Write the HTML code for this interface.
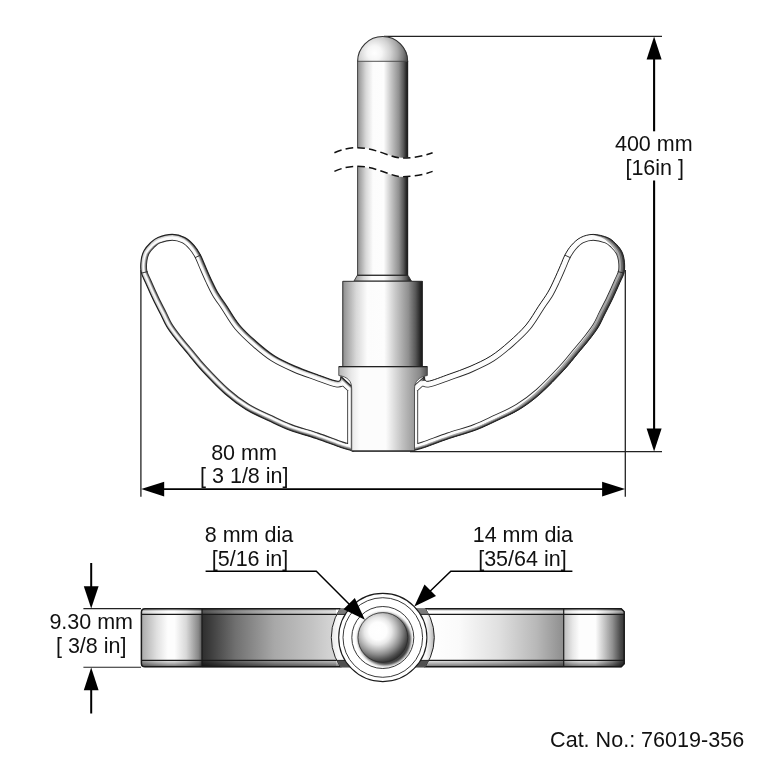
<!DOCTYPE html>
<html><head><meta charset="utf-8"><title>76019-356</title>
<style>
html,body{margin:0;padding:0;background:#fff;overflow:hidden;}
svg{display:block;filter:grayscale(1);}
text{font-family:"Liberation Sans",sans-serif;font-size:21.5px;fill:#111;}
</style></head><body>
<svg width="768" height="768" viewBox="0 0 768 768">
<defs>
<linearGradient id="gShaft" x1="0" x2="1" y1="0" y2="0"><stop offset="0" stop-color="#8c8c8c"/><stop offset="0.06" stop-color="#a8a8a8"/><stop offset="0.17" stop-color="#d8d8d8"/><stop offset="0.31" stop-color="#fcfcfc"/><stop offset="0.52" stop-color="#fdfdfd"/><stop offset="0.66" stop-color="#c8c8c8"/><stop offset="0.82" stop-color="#909090"/><stop offset="0.91" stop-color="#585858"/><stop offset="0.97" stop-color="#262626"/><stop offset="1" stop-color="#151515"/></linearGradient>
<linearGradient id="gCollar" x1="0" x2="1" y1="0" y2="0"><stop offset="0" stop-color="#8c8c8c"/><stop offset="0.06" stop-color="#a8a8a8"/><stop offset="0.17" stop-color="#d8d8d8"/><stop offset="0.31" stop-color="#fcfcfc"/><stop offset="0.52" stop-color="#fdfdfd"/><stop offset="0.66" stop-color="#c8c8c8"/><stop offset="0.82" stop-color="#909090"/><stop offset="0.91" stop-color="#585858"/><stop offset="0.97" stop-color="#262626"/><stop offset="1" stop-color="#151515"/></linearGradient>
<linearGradient id="gHub" x1="0" x2="1" y1="0" y2="0"><stop offset="0" stop-color="#b4b4b4"/><stop offset="0.14" stop-color="#e8e8e8"/><stop offset="0.24" stop-color="#fcfcfc"/><stop offset="0.53" stop-color="#fcfcfc"/><stop offset="0.72" stop-color="#c0c0c0"/><stop offset="0.92" stop-color="#888"/><stop offset="1" stop-color="#505050"/></linearGradient>
<radialGradient id="gDome" gradientUnits="userSpaceOnUse" cx="374.5" cy="53" r="36"><stop offset="0" stop-color="#ffffff"/><stop offset="0.2" stop-color="#f6f6f6"/><stop offset="0.45" stop-color="#d2d2d2"/><stop offset="0.65" stop-color="#a8a8a8"/><stop offset="0.8" stop-color="#7c7c7c"/><stop offset="0.92" stop-color="#4c4c4c"/><stop offset="1" stop-color="#333"/></radialGradient>
<radialGradient id="gBall" gradientUnits="userSpaceOnUse" cx="378" cy="631" r="34"><stop offset="0" stop-color="#ffffff"/><stop offset="0.26" stop-color="#fdfdfd"/><stop offset="0.4" stop-color="#e8e8e8"/><stop offset="0.55" stop-color="#bcbcbc"/><stop offset="0.7" stop-color="#8a8a8a"/><stop offset="0.85" stop-color="#505050"/><stop offset="1" stop-color="#222"/></radialGradient>
<linearGradient id="gTipL" x1="0" x2="1" y1="0" y2="0"><stop offset="0" stop-color="#a8a8a8"/><stop offset="0.26" stop-color="#e0e0e0"/><stop offset="0.44" stop-color="#fdfdfd"/><stop offset="0.55" stop-color="#fdfdfd"/><stop offset="0.74" stop-color="#d8d8d8"/><stop offset="0.94" stop-color="#888"/><stop offset="1" stop-color="#5a5a5a"/></linearGradient>
<linearGradient id="gMidL" x1="0" x2="1" y1="0" y2="0"><stop offset="0" stop-color="#2e2e2e"/><stop offset="0.06" stop-color="#3c3c3c"/><stop offset="0.25" stop-color="#707070"/><stop offset="0.54" stop-color="#a8a8a8"/><stop offset="0.83" stop-color="#c4c4c4"/><stop offset="1" stop-color="#d8d8d8"/></linearGradient>
<linearGradient id="gMidR" x1="0" x2="1" y1="0" y2="0"><stop offset="0" stop-color="#ffffff"/><stop offset="0.23" stop-color="#fafafa"/><stop offset="0.52" stop-color="#e0e0e0"/><stop offset="0.8" stop-color="#b8b8b8"/><stop offset="1" stop-color="#8e8e8e"/></linearGradient>
<linearGradient id="gTipR" x1="0" x2="1" y1="0" y2="0"><stop offset="0" stop-color="#bcbcbc"/><stop offset="0.15" stop-color="#e8e8e8"/><stop offset="0.26" stop-color="#fdfdfd"/><stop offset="0.52" stop-color="#fdfdfd"/><stop offset="0.66" stop-color="#c8c8c8"/><stop offset="0.8" stop-color="#909090"/><stop offset="0.92" stop-color="#505050"/><stop offset="1" stop-color="#303030"/></linearGradient>
<linearGradient id="gChT" x1="0" x2="0" y1="0" y2="1"><stop offset="0" stop-color="#000" stop-opacity="0.28"/><stop offset="0.5" stop-color="#fff" stop-opacity="0.5"/><stop offset="1" stop-color="#fff" stop-opacity="0.25"/></linearGradient>
<linearGradient id="gChB" x1="0" x2="0" y1="0" y2="1"><stop offset="0" stop-color="#000" stop-opacity="0.08"/><stop offset="0.6" stop-color="#000" stop-opacity="0.38"/><stop offset="1" stop-color="#000" stop-opacity="0.62"/></linearGradient>
<linearGradient id="gChTd" x1="0" x2="0" y1="0" y2="1"><stop offset="0" stop-color="#000" stop-opacity="0.3"/><stop offset="0.5" stop-color="#fff" stop-opacity="0.18"/><stop offset="1" stop-color="#fff" stop-opacity="0.1"/></linearGradient>
<linearGradient id="gFillet" gradientUnits="userSpaceOnUse" x1="331" x2="435" y1="0" y2="0"><stop offset="0" stop-color="#e8e8e8"/><stop offset="0.08" stop-color="#fbfbfb"/><stop offset="0.915" stop-color="#fafafa"/><stop offset="0.96" stop-color="#d4d4d4"/><stop offset="1" stop-color="#a4a4a4"/></linearGradient>
<radialGradient id="gRing" gradientUnits="userSpaceOnUse" cx="378" cy="632" r="38"><stop offset="0" stop-color="#fff"/><stop offset="0.68" stop-color="#fff"/><stop offset="0.8" stop-color="#c8c8c8"/><stop offset="0.92" stop-color="#707070"/><stop offset="1" stop-color="#555"/></radialGradient>
<clipPath id="cRing"><circle cx="382.8" cy="637.5" r="30.5"/></clipPath>
<filter id="fBlur" x="-30%" y="-30%" width="160%" height="160%"><feGaussianBlur stdDeviation="1.7"/></filter>
<filter id="fBlur2" x="-30%" y="-30%" width="160%" height="160%"><feGaussianBlur stdDeviation="1.2"/></filter>
<clipPath id="cFil"><circle cx="382.8" cy="637.5" r="51.5"/></clipPath>
<clipPath id="cWing"><path d="M341.00,376.50 C340.42,377.30 341.62,381.68 337.50,381.30 C333.38,380.92 323.27,376.68 316.25,374.20 C309.23,371.72 302.34,369.43 295.40,366.40 C288.46,363.37 281.10,360.12 274.60,356.00 C268.10,351.88 262.27,346.87 256.40,341.70 C250.53,336.53 244.32,330.91 239.40,325.00 C234.48,319.09 230.55,311.72 226.90,306.25 C223.25,300.78 220.11,296.62 217.50,292.20 C214.89,287.77 213.33,284.13 211.25,279.70 C209.17,275.27 206.82,269.77 205.00,265.60 C203.18,261.43 202.13,258.08 200.30,254.70 C198.47,251.32 196.60,248.17 194.00,245.30 C191.40,242.43 188.33,239.32 184.70,237.50 C181.07,235.68 176.65,234.40 172.20,234.40 C167.75,234.40 161.65,236.07 158.00,237.50 C154.35,238.93 152.63,240.78 150.30,243.00 C147.97,245.22 145.52,247.97 144.00,250.80 C142.48,253.63 141.67,256.47 141.20,260.00 C140.73,263.53 140.47,268.20 141.20,272.00 C141.93,275.80 143.57,278.13 145.60,282.80 C147.63,287.47 150.83,294.63 153.40,300.00 C155.97,305.37 158.73,310.50 161.00,315.00 C163.27,319.50 164.50,322.92 167.00,327.00 C169.50,331.08 172.50,335.00 176.00,339.50 C179.50,344.00 183.72,348.87 188.00,354.00 C192.28,359.13 195.53,363.68 201.70,370.30 C207.87,376.93 217.62,387.23 225.00,393.75 C232.38,400.27 238.60,404.86 246.00,409.40 C253.40,413.94 262.07,417.53 269.40,421.00 C276.73,424.47 282.19,427.28 290.00,430.20 C297.81,433.12 307.75,435.62 316.25,438.50 C324.75,441.38 334.79,445.42 341.00,447.50 C347.21,449.58 351.42,450.42 353.50,451.00 L353.5,388 Z"/></clipPath>
<path id="wingP" d="M341.00,376.50 C340.42,377.30 341.62,381.68 337.50,381.30 C333.38,380.92 323.27,376.68 316.25,374.20 C309.23,371.72 302.34,369.43 295.40,366.40 C288.46,363.37 281.10,360.12 274.60,356.00 C268.10,351.88 262.27,346.87 256.40,341.70 C250.53,336.53 244.32,330.91 239.40,325.00 C234.48,319.09 230.55,311.72 226.90,306.25 C223.25,300.78 220.11,296.62 217.50,292.20 C214.89,287.77 213.33,284.13 211.25,279.70 C209.17,275.27 206.82,269.77 205.00,265.60 C203.18,261.43 202.13,258.08 200.30,254.70 C198.47,251.32 196.60,248.17 194.00,245.30 C191.40,242.43 188.33,239.32 184.70,237.50 C181.07,235.68 176.65,234.40 172.20,234.40 C167.75,234.40 161.65,236.07 158.00,237.50 C154.35,238.93 152.63,240.78 150.30,243.00 C147.97,245.22 145.52,247.97 144.00,250.80 C142.48,253.63 141.67,256.47 141.20,260.00 C140.73,263.53 140.47,268.20 141.20,272.00 C141.93,275.80 143.57,278.13 145.60,282.80 C147.63,287.47 150.83,294.63 153.40,300.00 C155.97,305.37 158.73,310.50 161.00,315.00 C163.27,319.50 164.50,322.92 167.00,327.00 C169.50,331.08 172.50,335.00 176.00,339.50 C179.50,344.00 183.72,348.87 188.00,354.00 C192.28,359.13 195.53,363.68 201.70,370.30 C207.87,376.93 217.62,387.23 225.00,393.75 C232.38,400.27 238.60,404.86 246.00,409.40 C253.40,413.94 262.07,417.53 269.40,421.00 C276.73,424.47 282.19,427.28 290.00,430.20 C297.81,433.12 307.75,435.62 316.25,438.50 C324.75,441.38 334.79,445.42 341.00,447.50 C347.21,449.58 351.42,450.42 353.50,451.00 L353.5,388 Z"/>
<mask id="mBand" maskUnits="userSpaceOnUse" x="120" y="220" width="260" height="250"><rect x="120" y="220" width="260" height="250" fill="#000"/><g clip-path="url(#cWing)"><use href="#wingP" fill="none" stroke="#fff" stroke-width="10.8"/></g></mask>
</defs>
<rect width="768" height="768" fill="#fff"/>

<!-- extension / dimension lines -->
<g stroke="#222" stroke-width="1.1" fill="none">
<line x1="384" y1="36.4" x2="662" y2="36.4"/>
<line x1="410" y1="451.6" x2="662" y2="451.6"/>
<line x1="140.9" y1="270" x2="140.9" y2="496.7" stroke-width="1.3"/>
<line x1="625.3" y1="270" x2="625.3" y2="496.7" stroke-width="1.3"/>
<line x1="83.4" y1="608.6" x2="141" y2="608.6"/>
<line x1="83.4" y1="667.2" x2="141" y2="667.2"/>
</g>
<g stroke="#000" stroke-width="1.55" fill="none">
<line x1="654.1" y1="55" x2="654.1" y2="131.3" stroke-width="2.1"/>
<line x1="654.1" y1="180.5" x2="654.1" y2="432" stroke-width="2.1"/>
<line x1="160" y1="489.1" x2="606" y2="489.1"/>
<line x1="91.2" y1="563" x2="91.2" y2="590" stroke-width="2"/>
<line x1="91.2" y1="688" x2="91.2" y2="713.5" stroke-width="2"/>
</g>
<g fill="#000">
<polygon points="654.1,36.6 646.6,59.4 661.6,59.4"/>
<polygon points="654.1,451.4 646.6,428.6 661.6,428.6"/>
<polygon points="141.2,489.1 164.2,481.7 164.2,496.5"/>
<polygon points="625.1,489.1 602.1,481.7 602.1,496.5"/>
<polygon points="91.2,608.4 83.8,586.2 98.6,586.2"/>
<polygon points="91.2,667.4 83.8,690.2 98.6,690.2"/>
</g>

<!-- wings -->
<g id="wingL">
<use href="#wingP" fill="#fff"/>
<g clip-path="url(#cWing)"><use href="#wingP" fill="none" stroke="#2a2a2a" stroke-width="12.5"/></g>
<g mask="url(#mBand)"><rect x="120" y="220" width="260" height="250" fill="#6c6c6c"/><g transform="translate(-1.12,0.00)" clip-path="url(#cWing)"><g clip-path="url(#cWing)" transform="translate(0.84,-1.12)"><use href="#wingP" fill="none" stroke="#a0a0a0" stroke-width="10.8" transform="translate(-0.42,1.12)"/></g></g><g transform="translate(-2.24,0.00)" clip-path="url(#cWing)"><g clip-path="url(#cWing)" transform="translate(1.68,-2.24)"><use href="#wingP" fill="none" stroke="#d0d0d0" stroke-width="10.8" transform="translate(-0.84,2.24)"/></g></g><g transform="translate(-3.20,0.00)" clip-path="url(#cWing)"><g clip-path="url(#cWing)" transform="translate(2.40,-3.20)"><use href="#wingP" fill="none" stroke="#fcfcfc" stroke-width="10.8" transform="translate(-1.20,3.20)"/></g></g></g>
<g mask="url(#mBand)"><use href="#wingP" fill="none" stroke="#000" stroke-opacity="0.13" stroke-width="4.4"/><use href="#wingP" fill="none" stroke="#000" stroke-opacity="0.13" stroke-width="2.2"/></g>
<use href="#wingP" fill="none" stroke="#222" stroke-width="1.15"/>
</g>
<g id="wingR" transform="translate(765.4,0) scale(-1,1)">
<use href="#wingP" fill="#fff"/>
<g clip-path="url(#cWing)"><use href="#wingP" fill="none" stroke="#2a2a2a" stroke-width="12.5"/></g>
<g mask="url(#mBand)"><rect x="120" y="220" width="260" height="250" fill="#3a3a3a"/><g transform="translate(1.80,0.00)" clip-path="url(#cWing)"><use href="#wingP" fill="#707070" transform="translate(-1.62,-0.78)"/></g><g transform="translate(3.60,0.00)" clip-path="url(#cWing)"><use href="#wingP" fill="#a8a8a8" transform="translate(-3.24,-1.56)"/></g><g transform="translate(6.00,0.00)" clip-path="url(#cWing)"><use href="#wingP" fill="#fcfcfc" transform="translate(-5.40,-2.60)"/></g></g>

<use href="#wingP" fill="none" stroke="#222" stroke-width="1.0"/>
</g>

<g stroke="#222" stroke-width="0.9" fill="none">
<line x1="141.2" y1="273.2" x2="147.6" y2="271.6"/><line x1="195" y1="257.7" x2="200.6" y2="255.1"/>
<line x1="624.2" y1="273.2" x2="617.8" y2="271.6"/><line x1="570.4" y1="257.7" x2="564.8" y2="255.1"/>
</g>
<!-- shaft -->
<rect x="357.3" y="61" width="50.7" height="214.5" fill="url(#gShaft)"/>
<path d="M357.3,61.5 A25.35,25.2 0 0 1 408,61.5 Z" fill="url(#gDome)"/>
<path d="M357.6,61.5 A25.05,25 0 0 1 407.7,61.5" fill="none" stroke="#333" stroke-width="1.1"/>
<line x1="357.3" y1="61.3" x2="408" y2="61.3" stroke="#444" stroke-width="0.9"/>
<line x1="357.6" y1="61" x2="357.6" y2="275" stroke="#444" stroke-width="1"/>
<line x1="407.7" y1="61" x2="407.7" y2="275" stroke="#222" stroke-width="1"/>
<!-- break gap -->
<path d="M334.4,152.8 C342,149.2 350,147.7 357.2,147.7 C366,147.7 374,150 382.6,152.9 C391,155.8 396,158.1 403,158.1 C412,158.1 423,156.4 432.6,152.8 L432.6,171.4 C423.0,175.0 412.0,176.7 403.0,176.7 C396.0,176.7 391.0,174.4 382.6,171.5 C374.0,168.6 366.0,166.3 357.2,166.3 C350.0,166.3 342.0,167.8 334.4,171.4 Z" fill="#fff" stroke="#fff" stroke-width="0.6"/>
<g fill="none" stroke="#111" stroke-width="1.5" stroke-dasharray="7.6 4.2">
<path d="M334.4,152.8 C342,149.2 350,147.7 357.2,147.7 C366,147.7 374,150 382.6,152.9 C391,155.8 396,158.1 403,158.1 C412,158.1 423,156.4 432.6,152.8"/>
<path d="M334.4,171.4 C342,167.8 350,166.3 357.2,166.3 C366,166.3 374,168.6 382.6,171.5 C391,174.4 396,176.7 403,176.7 C412,176.7 423,175.0 432.6,171.4"/>
</g>
<!-- chamfer under shaft -->
<path d="M357.3,275.3 L408,275.3 L411.4,281 L354,281 Z" fill="url(#gShaft)" stroke="#333" stroke-width="0.9"/>
<line x1="357.3" y1="275.3" x2="408" y2="275.3" stroke="#222" stroke-width="1.1"/>
<!-- collar -->
<rect x="342.5" y="281" width="80.2" height="85.6" fill="url(#gCollar)"/>
<path d="M342.8,366.6 L342.8,281.3 L422.4,281.3 L422.4,366.6" fill="none" stroke="#333" stroke-width="1"/>
<!-- flange + hub -->
<path d="M338.8,366.6 L427.3,366.6 L427.3,375.5 C419,377 414.5,381 414.5,389 L414.5,451 L351.7,451 L351.7,389 C351.7,381 348,377 338.8,375.5 Z" fill="url(#gHub)"/>
<path d="M338.8,366.6 L427.3,366.6 L427.3,375.5 C419,377 414.5,381 414.5,389 L414.5,451 L351.7,451 L351.7,389 C351.7,381 348,377 338.8,375.5 Z" fill="none" stroke="#444" stroke-width="0.9"/>
<line x1="338.8" y1="366.6" x2="427.3" y2="366.6" stroke="#222" stroke-width="1.1"/>
<line x1="351.7" y1="451.2" x2="414.5" y2="451.2" stroke="#222" stroke-width="1.2"/>

<!-- bottom view bar -->
<g>
<path id="barP" d="M145,608.4 L621.4,608.4 L624.6,611.6 L624.6,664 L621.4,667.2 L145,667.2 Q141,667.2 141,663.2 L141,612.4 Q141,608.4 145,608.4 Z" fill="#fff"/>
<clipPath id="cBarP"><path d="M145,608.4 L621.4,608.4 L624.6,611.6 L624.6,664 L621.4,667.2 L145,667.2 Q141,667.2 141,663.2 L141,612.4 Q141,608.4 145,608.4 Z"/></clipPath>
<g clip-path="url(#cBarP)">
<rect x="141" y="608" width="61" height="60" fill="url(#gTipL)"/>
<rect x="202" y="608" width="134" height="60" fill="url(#gMidL)"/>
<rect x="428" y="608" width="135.7" height="60" fill="url(#gMidR)"/>
<rect x="563.7" y="608" width="61" height="60" fill="url(#gTipR)"/>
<!-- chamfer strips -->
<rect x="141" y="608.4" width="61" height="6" fill="url(#gChT)"/>
<rect x="202" y="608.4" width="134" height="6" fill="url(#gChTd)"/>
<rect x="428" y="608.4" width="197" height="6" fill="url(#gChT)"/>
<rect x="141" y="660.4" width="484" height="6.8" fill="url(#gChB)"/>
</g>
<g fill="none" stroke="#1a1a1a" stroke-width="1.2">
<path d="M145,608.8 L621.2,608.8 L624.2,611.8 L624.2,663.8 L621.2,666.8 L145,666.8 Q141.4,666.8 141.4,663.2 L141.4,612.4 Q141.4,608.8 145,608.8 Z" stroke-width="1.5"/>
<line x1="141.5" y1="614.4" x2="624.5" y2="614.4"/>
<line x1="141.5" y1="660.4" x2="624.5" y2="660.4"/>
<line x1="202" y1="609" x2="202" y2="667"/>
<line x1="563.7" y1="609" x2="563.7" y2="667"/>
</g>
</g>
<!-- hub circles -->
<g clip-path="url(#cBarP)">
<circle cx="382.8" cy="637.5" r="51.5" fill="url(#gFillet)" stroke="#222" stroke-width="1"/>
<g clip-path="url(#cFil)"><rect x="330" y="608.4" width="106" height="6" fill="#7a7a7a"/><rect x="330" y="660.4" width="106" height="6.8" fill="#505050"/>
<line x1="330" y1="614.4" x2="436" y2="614.4" stroke="#222" stroke-width="1"/><line x1="330" y1="660.4" x2="436" y2="660.4" stroke="#222" stroke-width="1"/></g>
</g>
<circle cx="382.8" cy="637.5" r="44.1" fill="#fff" stroke="#1a1a1a" stroke-width="1.1"/>
<circle cx="382.8" cy="637.5" r="39.8" fill="#fff" stroke="#222" stroke-width="0.9"/>
<circle cx="382.8" cy="637.5" r="31" fill="#fff" stroke="#222" stroke-width="0.9"/>
<g clip-path="url(#cRing)"><circle cx="385.2" cy="639.6" r="25.6" fill="#2c2c2c" filter="url(#fBlur)"/><circle cx="382.85" cy="637.5" r="25.8" fill="#8a8a8a" opacity="0.45" filter="url(#fBlur2)"/></g>
<circle cx="382.85" cy="637.5" r="24.9" fill="url(#gBall)" stroke="#2a2a2a" stroke-width="0.8"/>

<!-- leaders over circles -->
<g stroke="#000" stroke-width="1.45" fill="none">
<polyline points="205.6,571.2 316.3,571.2 358,613"/>
<polyline points="572.4,571.2 450.8,571.2 421,600"/>
</g>
<g fill="#000">
<polygon points="364.9,619.8 343.5,609.2 354.8,598.0"/>
<polygon points="414.3,606.4 424.5,584.5 436.0,596.0"/>
</g>

<!-- text -->
<g text-anchor="middle">
<text x="653.8" y="150.8">400 mm</text>
<text x="654.7" y="174.7">[16in ]</text>
<text x="244" y="460">80 mm</text>
<text x="244.3" y="483.4">[ 3 1/8 in]</text>
<text x="249" y="541.8">8 mm dia</text>
<text x="250" y="565.5">[5/16 in]</text>
<text x="522.9" y="541.8">14 mm dia</text>
<text x="522.4" y="565.5">[35/64 in]</text>
<text x="91.2" y="629">9.30 mm</text>
<text x="91.2" y="652.9">[ 3/8 in]</text>
</g>
<text x="550.1" y="746.5" style="font-size:21.55px">Cat. No.: 76019-356</text>
</svg>
</body></html>
